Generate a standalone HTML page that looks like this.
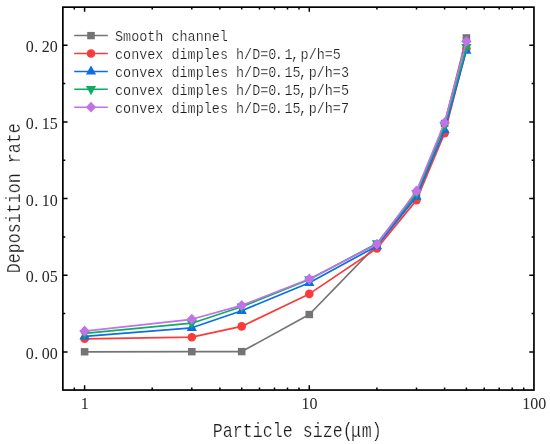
<!DOCTYPE html>
<html lang="en"><head><meta charset="utf-8"><title>Deposition rate vs particle size</title>
<style>
html,body{margin:0;padding:0;background:#fff}
svg{display:block}
text{font-family:"Liberation Mono",monospace;fill:#1c1c1c;stroke:#fff;stroke-width:.22px}
text.s{font-family:"Liberation Serif",serif;stroke:none;fill:#262626}
</style></head><body>
<svg width="550" height="444" viewBox="0 0 550 444">
<rect width="550" height="444" fill="#fff"/>
<path d="M74.3 390.0v-2.4M74.3 7.15v2.4M84.6 390.0v-4.7M84.6 7.15v4.7M152.2 390.0v-2.4M152.2 7.15v2.4M191.8 390.0v-2.4M191.8 7.15v2.4M219.9 390.0v-2.4M219.9 7.15v2.4M241.7 390.0v-2.4M241.7 7.15v2.4M259.5 390.0v-2.4M259.5 7.15v2.4M274.5 390.0v-2.4M274.5 7.15v2.4M287.5 390.0v-2.4M287.5 7.15v2.4M299.0 390.0v-2.4M299.0 7.15v2.4M309.3 390.0v-4.7M309.3 7.15v4.7M376.9 390.0v-2.4M376.9 7.15v2.4M416.5 390.0v-2.4M416.5 7.15v2.4M444.6 390.0v-2.4M444.6 7.15v2.4M466.4 390.0v-2.4M466.4 7.15v2.4M484.2 390.0v-2.4M484.2 7.15v2.4M499.2 390.0v-2.4M499.2 7.15v2.4M512.2 390.0v-2.4M512.2 7.15v2.4M523.7 390.0v-2.4M523.7 7.15v2.4M62.85 351.9h4.7M534.0 351.9h-4.7M62.85 313.6h2.4M534.0 313.6h-2.4M62.85 275.2h4.7M534.0 275.2h-4.7M62.85 236.9h2.4M534.0 236.9h-2.4M62.85 198.6h4.7M534.0 198.6h-4.7M62.85 160.3h2.4M534.0 160.3h-2.4M62.85 121.9h4.7M534.0 121.9h-4.7M62.85 83.6h2.4M534.0 83.6h-2.4M62.85 45.3h4.7M534.0 45.3h-4.7" stroke="#000" stroke-width="1.5" fill="none"/>
<rect x="62.85" y="7.15" width="471.1" height="382.9" fill="none" stroke="#000" stroke-width="1.7"/>
<polyline points="84.6,351.8 191.8,351.7 241.7,351.6 309.3,314.5 376.9,244.8 416.5,194.0 444.6,123.5 466.4,37.9" fill="none" stroke="#747474" stroke-width="1.7" stroke-linejoin="round"/>
<rect x="80.8" y="348.1" width="7.6" height="7.4" fill="#747474"/><rect x="188.0" y="348.0" width="7.6" height="7.4" fill="#747474"/><rect x="237.9" y="347.9" width="7.6" height="7.4" fill="#747474"/><rect x="305.5" y="310.8" width="7.6" height="7.4" fill="#747474"/><rect x="373.1" y="241.1" width="7.6" height="7.4" fill="#747474"/><rect x="412.7" y="190.3" width="7.6" height="7.4" fill="#747474"/><rect x="440.8" y="119.8" width="7.6" height="7.4" fill="#747474"/><rect x="462.6" y="34.2" width="7.6" height="7.4" fill="#747474"/>
<polyline points="84.6,338.8 191.8,337.2 241.7,326.4 309.3,293.9 376.9,248.4 416.5,200.1 444.6,133.2 466.4,48.5" fill="none" stroke="#fd3a3a" stroke-width="1.7" stroke-linejoin="round"/>
<circle cx="84.6" cy="338.8" r="4.3" fill="#fd3a3a"/><circle cx="191.8" cy="337.2" r="4.3" fill="#fd3a3a"/><circle cx="241.7" cy="326.4" r="4.3" fill="#fd3a3a"/><circle cx="309.3" cy="293.9" r="4.3" fill="#fd3a3a"/><circle cx="376.9" cy="248.4" r="4.3" fill="#fd3a3a"/><circle cx="416.5" cy="200.1" r="4.3" fill="#fd3a3a"/><circle cx="444.6" cy="133.2" r="4.3" fill="#fd3a3a"/><circle cx="466.4" cy="48.5" r="4.3" fill="#fd3a3a"/>
<polyline points="84.6,336.4 191.8,327.8 241.7,310.7 309.3,282.7 376.9,246.0 416.5,196.6 444.6,129.9 466.4,50.6" fill="none" stroke="#0a6ee8" stroke-width="1.7" stroke-linejoin="round"/>
<path d="M84.6 330.4L89.7 339.6L79.5 339.6Z" fill="#0a6ee8"/><path d="M191.8 321.8L196.9 331.0L186.7 331.0Z" fill="#0a6ee8"/><path d="M241.7 304.7L246.8 313.9L236.6 313.9Z" fill="#0a6ee8"/><path d="M309.3 276.7L314.4 285.9L304.2 285.9Z" fill="#0a6ee8"/><path d="M376.9 240.0L382.0 249.2L371.8 249.2Z" fill="#0a6ee8"/><path d="M416.5 190.6L421.6 199.8L411.4 199.8Z" fill="#0a6ee8"/><path d="M444.6 123.9L449.7 133.1L439.5 133.1Z" fill="#0a6ee8"/><path d="M466.4 44.6L471.5 53.8L461.3 53.8Z" fill="#0a6ee8"/>
<polyline points="84.6,333.4 191.8,323.2 241.7,306.8 309.3,279.5 376.9,243.5 416.5,193.2 444.6,125.5 466.4,47.2" fill="none" stroke="#0cad5f" stroke-width="1.7" stroke-linejoin="round"/>
<path d="M84.6 339.4L89.7 330.2L79.5 330.2Z" fill="#0cad5f"/><path d="M191.8 329.2L196.9 320.0L186.7 320.0Z" fill="#0cad5f"/><path d="M241.7 312.8L246.8 303.6L236.6 303.6Z" fill="#0cad5f"/><path d="M309.3 285.5L314.4 276.3L304.2 276.3Z" fill="#0cad5f"/><path d="M376.9 249.5L382.0 240.3L371.8 240.3Z" fill="#0cad5f"/><path d="M416.5 199.2L421.6 190.0L411.4 190.0Z" fill="#0cad5f"/><path d="M444.6 131.5L449.7 122.3L439.5 122.3Z" fill="#0cad5f"/><path d="M466.4 53.2L471.5 44.0L461.3 44.0Z" fill="#0cad5f"/>
<polyline points="84.6,331.1 191.8,319.3 241.7,305.4 309.3,279.0 376.9,244.3 416.5,191.1 444.6,122.7 466.4,41.4" fill="none" stroke="#c072e6" stroke-width="1.7" stroke-linejoin="round"/>
<path d="M84.6 325.6L89.8 331.1L84.6 336.5L79.4 331.1Z" fill="#c072e6"/><path d="M191.8 313.8L197.0 319.3L191.8 324.7L186.6 319.3Z" fill="#c072e6"/><path d="M241.7 299.9L246.9 305.4L241.7 310.8L236.5 305.4Z" fill="#c072e6"/><path d="M309.3 273.5L314.5 279.0L309.3 284.4L304.1 279.0Z" fill="#c072e6"/><path d="M376.9 238.8L382.1 244.3L376.9 249.7L371.7 244.3Z" fill="#c072e6"/><path d="M416.5 185.6L421.7 191.1L416.5 196.5L411.3 191.1Z" fill="#c072e6"/><path d="M444.6 117.2L449.8 122.7L444.6 128.1L439.4 122.7Z" fill="#c072e6"/><path d="M466.4 35.9L471.6 41.4L466.4 46.8L461.2 41.4Z" fill="#c072e6"/>
<path d="M74.2 35.6H107.8" stroke="#747474" stroke-width="1.5"/><rect x="87.2" y="31.9" width="7.6" height="7.4" fill="#747474"/>
<text transform="translate(115.0 41.3) scale(0.8849 1)" font-size="15.2" text-anchor="start">Smooth channel</text>
<path d="M74.2 53.5H107.8" stroke="#fd3a3a" stroke-width="1.5"/><circle cx="91.0" cy="53.5" r="4.3" fill="#fd3a3a"/>
<text transform="translate(115.0 59.2) scale(0.8849 1)" dx="0 0 0 0 0 0 0 0 0 0 0 0 0 0 0 0 0 0 0 0 -1.8 1.8 -1.8 1.8 0 0 0 0" font-size="15.2" text-anchor="start">convex dimples h/D=0.1,p/h=5</text>
<path d="M74.2 71.4H107.8" stroke="#0a6ee8" stroke-width="1.5"/><path d="M91.0 65.4L96.1 74.6L85.9 74.6Z" fill="#0a6ee8"/>
<text transform="translate(115.0 77.1) scale(0.8849 1)" dx="0 0 0 0 0 0 0 0 0 0 0 0 0 0 0 0 0 0 0 0 -1.8 1.8 0 -1.8 1.8 0 0 0 0" font-size="15.2" text-anchor="start">convex dimples h/D=0.15,p/h=3</text>
<path d="M74.2 89.3H107.8" stroke="#0cad5f" stroke-width="1.5"/><path d="M91.0 95.3L96.1 86.1L85.9 86.1Z" fill="#0cad5f"/>
<text transform="translate(115.0 95.0) scale(0.8849 1)" dx="0 0 0 0 0 0 0 0 0 0 0 0 0 0 0 0 0 0 0 0 -1.8 1.8 0 -1.8 1.8 0 0 0 0" font-size="15.2" text-anchor="start">convex dimples h/D=0.15,p/h=5</text>
<path d="M74.2 107.2H107.8" stroke="#c072e6" stroke-width="1.5"/><path d="M91.0 101.7L96.2 107.2L91.0 112.6L85.8 107.2Z" fill="#c072e6"/>
<text transform="translate(115.0 112.9) scale(0.8849 1)" dx="0 0 0 0 0 0 0 0 0 0 0 0 0 0 0 0 0 0 0 0 -1.8 1.8 0 -1.8 1.8 0 0 0 0" font-size="15.2" text-anchor="start">convex dimples h/D=0.15,p/h=7</text>
<text transform="translate(57.7 358.8)" class="s" font-size="16" text-anchor="middle" x="-28 -21.5 -12 -4">0.00</text>
<text transform="translate(57.7 282.1)" class="s" font-size="16" text-anchor="middle" x="-28 -21.5 -12 -4">0.05</text>
<text transform="translate(57.7 205.5)" class="s" font-size="16" text-anchor="middle" x="-28 -21.5 -12 -4">0.10</text>
<text transform="translate(57.7 128.8)" class="s" font-size="16" text-anchor="middle" x="-28 -21.5 -12 -4">0.15</text>
<text transform="translate(57.7 52.2)" class="s" font-size="16" text-anchor="middle" x="-28 -21.5 -12 -4">0.20</text>
<text transform="translate(84.8 409.4)" class="s" font-size="16" text-anchor="middle" x="0">1</text>
<text transform="translate(309.5 409.4)" class="s" font-size="16" text-anchor="middle" x="-4 4">10</text>
<text transform="translate(534.2 409.4)" class="s" font-size="16" text-anchor="middle" x="-8 0 8">100</text>
<text dx="0 0 0 0 0 0 0 0 0 0 0 0 0 0 -2.2 1.1" transform="translate(212.7 436.5) scale(0.8333 1)" font-size="20" text-anchor="start">Particle size(μm)</text>
<text transform="translate(20.3 198.3) rotate(-90) scale(0.8333 1)" font-size="20" text-anchor="middle">Deposition rate</text>
</svg></body></html>
